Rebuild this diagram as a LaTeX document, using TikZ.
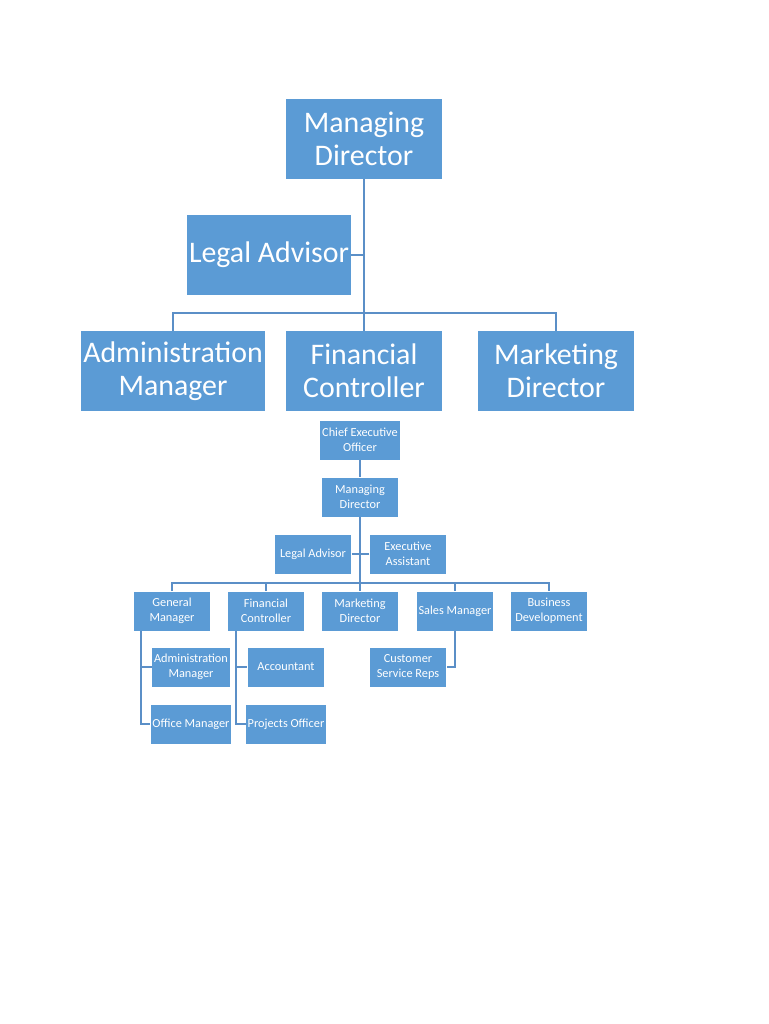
\documentclass[tikz,border=0pt]{standalone}
\usepackage{fontspec}
\setmainfont{Carlito}
\begin{document}
\begin{tikzpicture}[
  x=0.02cm, y=-0.02cm,
  big/.style={fill=boxblue, text=white, minimum width=3.12cm, minimum height=1.6cm, align=center, font=\fontsize{17}{19}\selectfont, inner sep=1pt},
  small/.style={fill=boxblue, text=white, minimum width=1.53cm, minimum height=0.78cm, align=center, font=\fontsize{7}{8.5}\selectfont, inner sep=1pt},
  link/.style={draw=lineblue, line width=0.8pt},
]
  \definecolor{boxblue}{HTML}{5B9BD5}
  \definecolor{lineblue}{HTML}{5B8FC7}
  \useasboundingbox (0,0) rectangle (768,1024);
  % Upper chart
  \node[big] (md) at (364,139) {Managing\\Director};
  \node[big] (legal) at (269,255) {Legal Advisor};
  \node[big] (admin) at (173,371) {Administration\\Manager};
  \node[big] (fc) at (364,371) {Financial\\Controller};
  \node[big] (mkt) at (556,371) {Marketing\\Director};
  \coordinate (bus) at (364,313);
  \draw[link] (md) -- (fc);
  \draw[link] (legal.east) -- (legal.east -| md);
  \draw[link] (admin.north) |- (bus) -| (mkt.north);
  % Lower chart
  \node[small] (ceo) at (360,440) {Chief Executive\\Officer};
  \node[small] (md2) at (360,497) {Managing\\Director};
  \node[small] (legal2) at (313,554) {Legal Advisor};
  \node[small] (exec) at (408,554) {Executive\\Assistant};
  \node[small] (gm) at (172,611) {General\\Manager};
  \node[small] (fc2) at (266,611) {Financial\\Controller};
  \node[small] (mkt2) at (360,611) {Marketing\\Director};
  \node[small] (sales) at (455,611) {Sales Manager};
  \node[small] (bd) at (549,611) {Business\\Development};
  \node[small] (adm2) at (191,667) {Administration\\Manager};
  \node[small] (office) at (191,724) {Office Manager};
  \node[small] (acct) at (286,667) {Accountant};
  \node[small] (proj) at (286,724) {Projects Officer};
  \node[small] (csr) at (408,667) {Customer\\Service Reps};
  \coordinate (bus2) at (360,583);
  \draw[link] (ceo) -- (md2);
  \draw[link] (md2) -- (mkt2);
  \draw[link] (legal2.east) -- (legal2.east -| md2);
  \draw[link] (exec.west) -- (exec.west -| md2);
  \draw[link] (gm.north) |- (bus2) -| (bd.north);
  \foreach \n in {fc2, sales} \draw[link] (\n.north) -- (\n.north |- bus2);
  \draw[link] ([xshift=-31*0.02cm]gm.south) |- (office.west);
  \draw[link] ([xshift=-31*0.02cm]gm.south |- adm2.west) -- (adm2.west);
  \draw[link] ([xshift=-30*0.02cm]fc2.south) |- (proj.west);
  \draw[link] ([xshift=-30*0.02cm]fc2.south |- acct.west) -- (acct.west);
  \draw[link] (sales.south) |- (csr.east);
\end{tikzpicture}
\end{document}
